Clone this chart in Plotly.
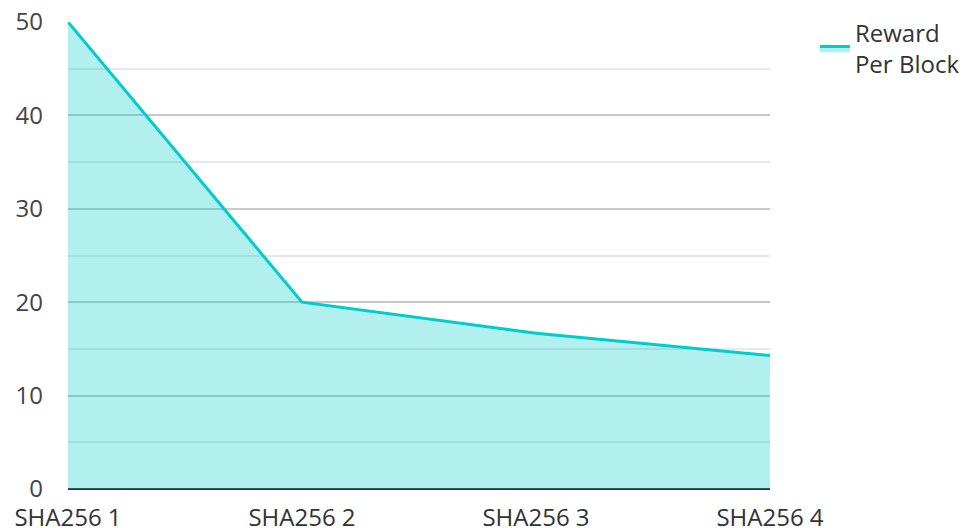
import plotly.graph_objects as go

categories = ["SHA256 1", "SHA256 2", "SHA256 3", "SHA256 4"]
reward_per_block = [50, 20, 16.67, 14.29]
series_name = "Reward<br>Per Block"
y_ticks = [0, 10, 20, 30, 40, 50]

fig = go.Figure()
fig.add_trace(go.Scatter(
    x=categories, y=reward_per_block, name=series_name,
    mode="lines", fill="tozeroy",
    line=dict(color="#00cccc", width=3),
    fillcolor="rgba(0,204,204,0.3)",
))

# page body has an 8px default margin, so the figure is sized to fit the window
fig.update_layout(
    width=959, height=520,
    margin=dict(l=60, r=197, t=14, b=39, autoexpand=False),
    paper_bgcolor="white", plot_bgcolor="white",
    font=dict(family="Open Sans", size=24, color="#444"),
    showlegend=True,
    legend=dict(x=1.064, xanchor="left", y=1.024, yanchor="top",
                font=dict(size=24, color="#333"), tracegroupgap=0),
    xaxis=dict(type="category", range=[0, 3], showgrid=False,
               showline=False, zeroline=False, ticks="", automargin=False,
               ticklabelstandoff=12, ticklabeloverflow="allow",
               tickfont=dict(size=24, color="#333")),
    yaxis=dict(range=[0, 50], tickvals=y_ticks, showgrid=True, automargin=False,
               gridcolor="#c8c8c8", gridwidth=1.5,
               zeroline=True, zerolinecolor="#333", zerolinewidth=2,
               ticks="", ticklabelstandoff=24, ticklabeloverflow="allow",
               tickfont=dict(size=24, color="#444"),
               minor=dict(dtick=5, showgrid=True, gridcolor="#e8e8e8", gridwidth=1.5)),
)

fig.write_html("out.html")
